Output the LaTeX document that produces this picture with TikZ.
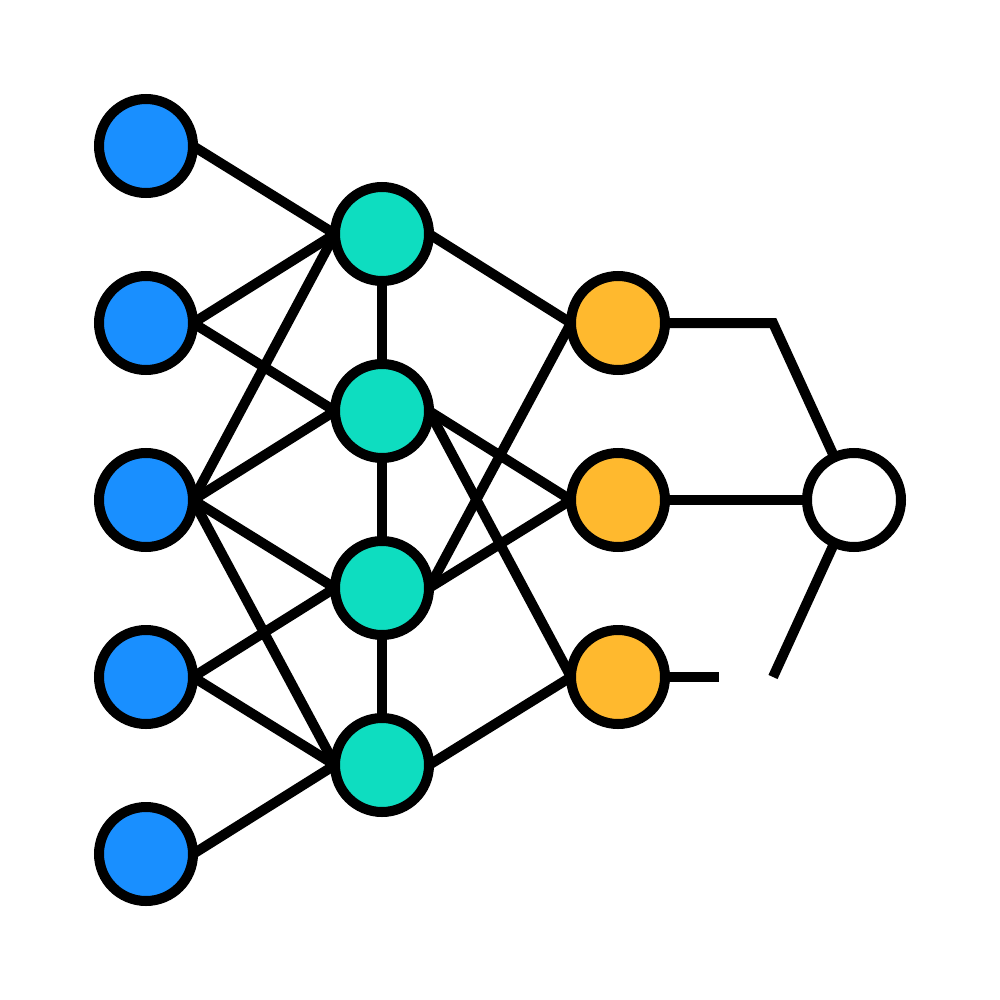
\documentclass[tikz,border=0pt]{standalone}
\usetikzlibrary{backgrounds}
\definecolor{inblue}{RGB}{25,143,255}
\definecolor{hidteal}{RGB}{14,221,192}
\definecolor{outorange}{RGB}{255,185,46}
\begin{document}
\begin{tikzpicture}[x=1pt,y=-1pt,
  neuron/.style={circle,draw=black,line width=10pt,minimum size=94pt,inner sep=0pt,outer sep=0pt},
  link/.style={draw=black,line width=10pt}]
\useasboundingbox (0,0) rectangle (1000,1000);
% input layer
\node[neuron,fill=inblue] (i1) at (146,146) {};
\node[neuron,fill=inblue] (i2) at (146,323) {};
\node[neuron,fill=inblue] (i3) at (146,500) {};
\node[neuron,fill=inblue] (i4) at (146,677) {};
\node[neuron,fill=inblue] (i5) at (146,854) {};
% hidden layer
\node[neuron,fill=hidteal] (h1) at (382,234) {};
\node[neuron,fill=hidteal] (h2) at (382,411) {};
\node[neuron,fill=hidteal] (h3) at (382,588) {};
\node[neuron,fill=hidteal] (h4) at (382,765) {};
% output layer
\node[neuron,fill=outorange] (o1) at (618,323) {};
\node[neuron,fill=outorange] (o2) at (618,500) {};
\node[neuron,fill=outorange] (o3) at (618,677) {};
% final
\node[neuron,fill=white] (f) at (854,500) {};
\coordinate (c1) at (773,323);
\coordinate (c2) at (773,677);
\coordinate (c3) at (719,677);
\begin{scope}[on background layer]
\fill[white] (0,0) rectangle (1000,1000);
\draw[link] (i1.east) -- (h1.west);
\draw[link] (i2.east) -- (h1.west);
\draw[link] (i2.east) -- (h2.west);
\draw[link] (i3.east) -- (h1.west);
\draw[link] (i3.east) -- (h2.west);
\draw[link] (i3.east) -- (h3.west);
\draw[link] (i3.east) -- (h4.west);
\draw[link] (i4.east) -- (h3.west);
\draw[link] (i4.east) -- (h4.west);
\draw[link] (i5.east) -- (h4.west);
\draw[link] (h1.south) -- (h2.north);
\draw[link] (h2.south) -- (h3.north);
\draw[link] (h3.south) -- (h4.north);
\draw[link] (h1.east) -- (o1.west);
\draw[link] (h2.east) -- (o2.west);
\draw[link] (h2.east) -- (o3.west);
\draw[link] (h3.east) -- (o1.west);
\draw[link] (h3.east) -- (o2.west);
\draw[link] (h4.east) -- (o3.west);
\draw[link] (o1.east) -- (c1) -- (f);
\draw[link] (o2.east) -- (f.west);
\draw[link] (o3.east) -- (c3);
\draw[link] (c2) -- (f);
\end{scope}
\end{tikzpicture}
\end{document}
